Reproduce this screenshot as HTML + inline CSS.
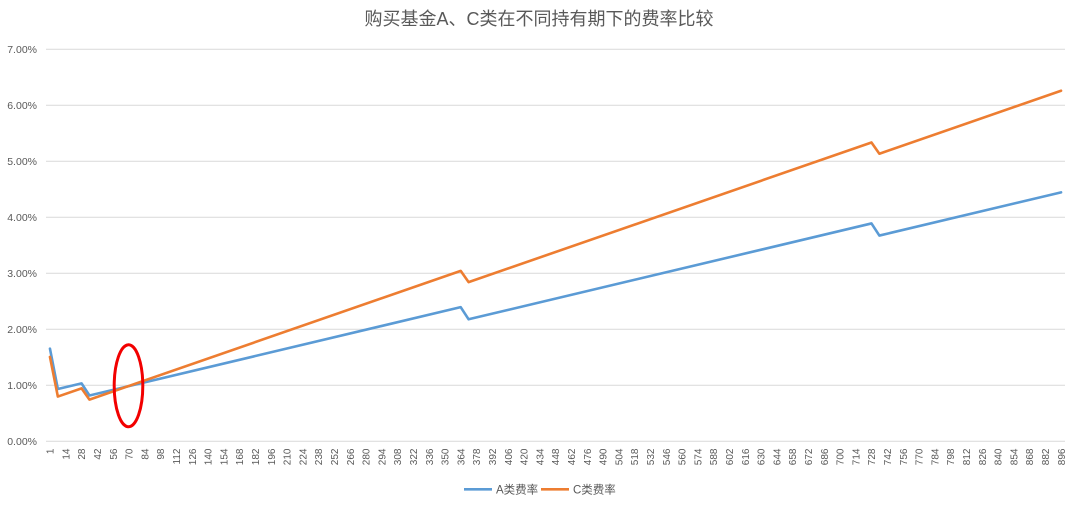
<!DOCTYPE html>
<html>
<head>
<meta charset="utf-8">
<style>
html,body{margin:0;padding:0;background:#fff;}
svg{display:block;}
text{font-family:"Liberation Sans","Noto Sans CJK SC",sans-serif;fill:#595959;}
.yl{font-size:10.5px;}
.xl{font-size:10px;}
</style>
</head>
<body>
<svg width="1080" height="508" viewBox="0 0 1080 508" xmlns="http://www.w3.org/2000/svg">
<rect x="0" y="0" width="1080" height="508" fill="#fff"/>
<text x="539" y="25" text-anchor="middle" style="font-size:18px;">购买基金A、C类在不同持有期下的费率比较</text>

<g stroke="#d9d9d9" stroke-width="1">
<line x1="46" y1="49.3" x2="1065" y2="49.3"/>
<line x1="46" y1="105.3" x2="1065" y2="105.3"/>
<line x1="46" y1="161.3" x2="1065" y2="161.3"/>
<line x1="46" y1="217.3" x2="1065" y2="217.3"/>
<line x1="46" y1="273.3" x2="1065" y2="273.3"/>
<line x1="46" y1="329.3" x2="1065" y2="329.3"/>
<line x1="46" y1="385.3" x2="1065" y2="385.3"/>
<line x1="46" y1="441.3" x2="1065" y2="441.3"/>
</g>

<g class="yl" text-anchor="end">
<text x="37" y="53.1">7.00%</text>
<text x="37" y="109.1">6.00%</text>
<text x="37" y="165.1">5.00%</text>
<text x="37" y="221.1">4.00%</text>
<text x="37" y="277.1">3.00%</text>
<text x="37" y="333.1">2.00%</text>
<text x="37" y="389.1">1.00%</text>
<text x="37" y="445.1">0.00%</text>
</g>

<g class="xl" text-anchor="end">
<text transform="translate(53.6,448.5) rotate(-90)">1</text>
<text transform="translate(69.4,448.5) rotate(-90)">14</text>
<text transform="translate(85.2,448.5) rotate(-90)">28</text>
<text transform="translate(101.0,448.5) rotate(-90)">42</text>
<text transform="translate(116.8,448.5) rotate(-90)">56</text>
<text transform="translate(132.6,448.5) rotate(-90)">70</text>
<text transform="translate(148.4,448.5) rotate(-90)">84</text>
<text transform="translate(164.2,448.5) rotate(-90)">98</text>
<text transform="translate(180.0,448.5) rotate(-90)">112</text>
<text transform="translate(195.8,448.5) rotate(-90)">126</text>
<text transform="translate(211.6,448.5) rotate(-90)">140</text>
<text transform="translate(227.4,448.5) rotate(-90)">154</text>
<text transform="translate(243.2,448.5) rotate(-90)">168</text>
<text transform="translate(259.0,448.5) rotate(-90)">182</text>
<text transform="translate(274.8,448.5) rotate(-90)">196</text>
<text transform="translate(290.6,448.5) rotate(-90)">210</text>
<text transform="translate(306.4,448.5) rotate(-90)">224</text>
<text transform="translate(322.2,448.5) rotate(-90)">238</text>
<text transform="translate(338.0,448.5) rotate(-90)">252</text>
<text transform="translate(353.8,448.5) rotate(-90)">266</text>
<text transform="translate(369.6,448.5) rotate(-90)">280</text>
<text transform="translate(385.4,448.5) rotate(-90)">294</text>
<text transform="translate(401.2,448.5) rotate(-90)">308</text>
<text transform="translate(417.0,448.5) rotate(-90)">322</text>
<text transform="translate(432.8,448.5) rotate(-90)">336</text>
<text transform="translate(448.6,448.5) rotate(-90)">350</text>
<text transform="translate(464.4,448.5) rotate(-90)">364</text>
<text transform="translate(480.2,448.5) rotate(-90)">378</text>
<text transform="translate(496.0,448.5) rotate(-90)">392</text>
<text transform="translate(511.8,448.5) rotate(-90)">406</text>
<text transform="translate(527.6,448.5) rotate(-90)">420</text>
<text transform="translate(543.4,448.5) rotate(-90)">434</text>
<text transform="translate(559.2,448.5) rotate(-90)">448</text>
<text transform="translate(575.0,448.5) rotate(-90)">462</text>
<text transform="translate(590.8,448.5) rotate(-90)">476</text>
<text transform="translate(606.6,448.5) rotate(-90)">490</text>
<text transform="translate(622.4,448.5) rotate(-90)">504</text>
<text transform="translate(638.2,448.5) rotate(-90)">518</text>
<text transform="translate(654.0,448.5) rotate(-90)">532</text>
<text transform="translate(669.8,448.5) rotate(-90)">546</text>
<text transform="translate(685.6,448.5) rotate(-90)">560</text>
<text transform="translate(701.4,448.5) rotate(-90)">574</text>
<text transform="translate(717.2,448.5) rotate(-90)">588</text>
<text transform="translate(733.0,448.5) rotate(-90)">602</text>
<text transform="translate(748.8,448.5) rotate(-90)">616</text>
<text transform="translate(764.6,448.5) rotate(-90)">630</text>
<text transform="translate(780.4,448.5) rotate(-90)">644</text>
<text transform="translate(796.2,448.5) rotate(-90)">658</text>
<text transform="translate(812.0,448.5) rotate(-90)">672</text>
<text transform="translate(827.8,448.5) rotate(-90)">686</text>
<text transform="translate(843.6,448.5) rotate(-90)">700</text>
<text transform="translate(859.4,448.5) rotate(-90)">714</text>
<text transform="translate(875.2,448.5) rotate(-90)">728</text>
<text transform="translate(891.0,448.5) rotate(-90)">742</text>
<text transform="translate(906.8,448.5) rotate(-90)">756</text>
<text transform="translate(922.6,448.5) rotate(-90)">770</text>
<text transform="translate(938.4,448.5) rotate(-90)">784</text>
<text transform="translate(954.2,448.5) rotate(-90)">798</text>
<text transform="translate(970.0,448.5) rotate(-90)">812</text>
<text transform="translate(985.8,448.5) rotate(-90)">826</text>
<text transform="translate(1001.6,448.5) rotate(-90)">840</text>
<text transform="translate(1017.4,448.5) rotate(-90)">854</text>
<text transform="translate(1033.2,448.5) rotate(-90)">868</text>
<text transform="translate(1049.0,448.5) rotate(-90)">882</text>
<text transform="translate(1064.8,448.5) rotate(-90)">896</text>
</g>

<polyline fill="none" stroke="#5B9BD5" stroke-width="2.6" stroke-linejoin="round" stroke-linecap="round"
points="49.95,348.63 57.85,389.02 81.55,383.38 89.45,395.50 460.71,307.17 468.61,319.29 871.47,223.44 879.37,235.56 1061.05,192.33"/>
<polyline fill="none" stroke="#ED7D31" stroke-width="2.6" stroke-linejoin="round" stroke-linecap="round"
points="49.95,356.91 57.85,396.56 81.55,388.35 89.45,399.61 460.71,270.89 468.61,282.15 871.47,142.48 879.37,153.74 1061.05,90.76"/>

<ellipse cx="128.5" cy="385.8" rx="14.3" ry="41" fill="none" stroke="#f20000" stroke-width="3"/>

<line x1="464" y1="489.3" x2="492" y2="489.3" stroke="#5B9BD5" stroke-width="2.6"/>
<text x="496" y="493.3" style="font-size:11.5px;">A类费率</text>
<line x1="541" y1="489.3" x2="569" y2="489.3" stroke="#ED7D31" stroke-width="2.6"/>
<text x="573" y="493.3" style="font-size:11.5px;">C类费率</text>
</svg>
</body>
</html>
